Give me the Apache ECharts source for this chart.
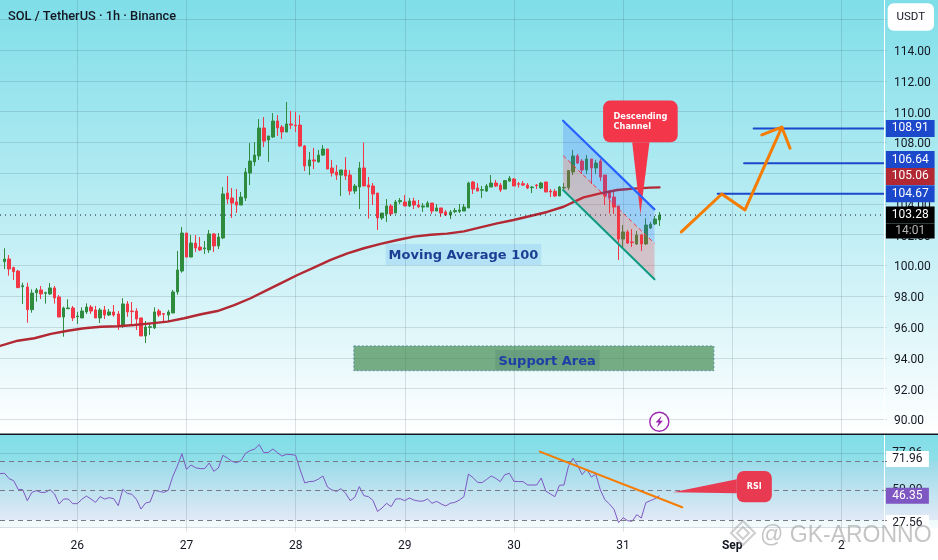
<!DOCTYPE html>
<html><head><meta charset="utf-8">
<style>html,body{margin:0;padding:0;background:#fff}#c{width:938px;height:560px}</style>
<script src="https://cdn.jsdelivr.net/npm/echarts@6/dist/echarts.min.js"></script>
</head><body><div id="c"></div>
<script>
// ---------- data ----------
const opens=[100.25,100.42,99.86,99.64,98.62,98.60,97.13,98.23,98.41,98.19,98.15,98.54,97.95,96.65,97.19,97.24,96.67,96.59,96.98,97.30,97.11,96.59,97.11,96.78,96.98,96.85,96.11,97.50,97.04,97.04,96.59,95.42,95.98,95.94,97.04,96.87,96.78,96.91,98.28,99.64,102.11,100.55,101.46,101.20,101.09,101.01,102.05,101.27,101.79,104.71,104.39,104.13,103.93,104.39,106.01,106.73,107.12,108.94,108.16,108.35,109.39,109.00,108.68,109.20,109.13,109.13,107.77,106.47,106.86,106.73,107.18,107.57,106.34,106.08,105.88,106.21,105.88,104.84,105.10,106.34,105.23,105.17,104.71,103.09,103.35,103.87,103.41,104.15,104.13,103.87,104.19,103.93,103.80,103.80,104.06,103.54,103.74,103.48,103.28,103.50,103.52,103.54,103.74,105.43,105.04,104.89,104.84,105.10,105.36,105.23,104.97,105.49,105.62,105.32,105.32,105.23,105.06,105.23,105.04,105.43,104.84,104.82,104.52,105.04,105.06,106.08,107.12,106.79,106.21,106.92,106.34,106.79,105.88,104.78,104.45,103.87,101.72,102.18,101.53,101.40,101.98,101.40,102.44,102.70,102.96];
const closes=[100.42,99.77,99.60,98.56,98.69,97.13,98.21,98.41,98.15,98.23,98.54,97.89,96.65,97.24,97.24,96.59,96.72,97.04,97.30,97.04,96.59,97.11,96.78,96.98,96.78,96.11,97.50,96.98,97.00,96.52,95.42,96.00,96.02,96.98,96.78,96.83,96.98,98.28,99.71,102.11,100.55,101.46,101.14,101.01,101.14,102.05,101.27,101.85,104.65,104.32,104.06,103.93,104.45,106.08,106.79,107.18,108.94,108.09,108.42,109.39,108.94,108.68,109.20,109.13,109.09,107.77,106.47,106.86,106.79,107.18,107.57,106.27,106.01,105.88,106.21,105.82,104.84,105.17,106.34,105.17,105.10,104.65,103.09,103.41,103.87,103.35,104.13,104.22,103.87,104.19,103.93,103.82,103.87,104.06,103.54,103.74,103.41,103.28,103.48,103.57,103.61,103.80,105.36,104.97,104.84,104.93,105.17,105.36,105.17,104.91,105.52,105.67,105.17,105.28,105.23,105.04,105.10,105.19,105.36,104.78,104.78,104.52,105.10,105.08,106.17,107.12,106.66,106.21,106.92,106.34,106.66,105.75,104.52,104.39,103.80,101.72,102.18,101.46,101.49,101.98,101.40,102.63,102.68,103.02,103.28];
const lows=[99.77,99.34,99.06,98.56,97.50,96.28,96.93,97.65,97.82,97.52,98.08,97.52,96.65,95.37,97.19,96.39,96.20,96.59,96.85,96.85,96.59,96.26,96.52,96.72,96.67,95.81,95.94,96.67,96.20,95.81,95.42,94.96,95.48,95.87,96.65,96.33,96.39,96.91,98.10,99.53,100.55,100.55,100.88,100.94,100.75,100.81,100.88,101.07,101.72,104.00,103.09,103.41,103.93,104.19,105.23,106.47,106.86,107.70,106.73,108.29,108.42,108.22,108.68,108.87,108.68,107.70,106.14,105.88,106.27,106.69,107.12,106.27,105.78,105.56,104.52,105.56,104.58,104.65,103.67,105.17,103.05,103.93,102.31,102.96,102.83,103.22,103.41,104.00,103.87,103.80,103.67,103.74,103.48,103.80,103.35,103.54,103.15,103.22,103.02,103.41,103.41,103.54,103.74,104.65,104.84,104.39,104.78,105.10,105.10,104.78,104.97,105.43,105.17,105.06,105.17,104.97,104.71,104.97,104.97,104.78,104.45,104.45,104.52,104.97,104.91,105.88,106.60,105.95,105.95,105.30,105.95,105.49,103.93,103.39,103.35,100.36,101.14,101.40,101.20,101.33,100.94,101.33,102.37,102.63,102.57];
const highs=[101.12,100.68,99.92,99.71,98.88,98.88,98.45,98.54,98.67,98.30,98.86,98.67,98.08,97.32,97.80,97.37,96.98,97.28,97.54,97.43,97.37,97.24,97.37,97.17,97.43,97.04,97.87,97.69,97.63,97.22,96.59,96.39,96.26,97.28,97.17,96.91,97.11,98.41,100.94,102.50,102.11,101.98,101.98,101.85,101.59,102.31,102.11,102.11,105.10,105.82,105.04,104.97,104.78,106.34,107.96,108.03,109.52,109.65,108.42,109.91,109.78,109.13,110.63,110.05,109.98,109.78,107.83,107.38,107.64,107.51,107.83,107.57,106.86,106.53,106.21,107.05,106.21,105.30,106.73,107.99,105.75,105.36,104.71,103.41,104.32,104.00,104.26,104.39,104.58,104.39,104.41,104.26,104.06,104.19,104.06,104.00,103.74,103.61,103.61,103.74,104.00,104.00,105.45,105.49,105.36,105.17,105.30,105.88,105.56,105.36,105.56,105.82,105.69,105.43,105.49,105.36,105.17,105.30,105.43,105.43,104.97,104.97,105.17,105.36,106.17,107.51,107.25,106.92,107.18,106.92,106.86,106.92,105.88,104.91,104.78,103.87,102.63,102.31,102.37,102.24,102.05,103.07,102.83,103.22,103.48];
const rsiValues=[61.3,61.5,57.9,56.5,50.65,50.4,43.0,48.6,49.75,48.6,48.6,50.4,47.5,40.7,44.1,44.1,40.95,40.95,43.9,46.1,44.1,41.8,45.7,44.1,45.0,44.3,39.6,50.65,47.9,47.3,43.9,37.3,41.4,42.1,50.0,49.3,48.6,50.0,59.5,66.5,74.8,64.2,67.15,65.3,64.7,64.7,68.5,62.9,65.1,73.7,71.9,69.6,68.7,70.1,75.1,76.9,78.0,81.0,75.5,75.7,78.0,75.5,73.2,74.4,74.2,73.7,63.8,55.0,55.9,56.1,57.6,59.7,52.2,50.2,49.3,51.1,47.9,43.0,45.2,52.5,46.4,45.7,43.2,35.7,38.0,41.2,38.9,44.1,44.3,43.0,44.8,43.4,42.7,42.7,44.1,41.2,42.5,40.7,39.4,41.2,41.8,43.4,45.7,61.0,58.6,55.4,55.2,57.4,59.7,58.1,55.9,60.6,61.5,56.1,55.9,55.9,53.6,53.6,53.6,58.3,49.5,47.5,45.7,53.4,53.6,66.5,71.7,66.7,60.6,64.4,59.0,60.8,50.2,43.6,40.7,37.1,28.1,31.4,29.4,29.0,33.5,31.2,41.6,43.0,44.3,46.35];
const maHours=[0,3.9,7.56,11.2,14.9,18.5,22.2,25.9,29.5,33.2,36.8,40.5,44.2,47.8,51.5,55.1,58.8,61.7,65.4,69,72.7,76.4,80,83.7,87.4,91,94.7,98.3,102,105.6,109.3,112.9,116.6,120.3,123.9,128.3,132,135.7,139.3,143,145];
const maValues=[94.77,95.11,95.27,95.55,95.76,95.92,96.02,96.05,96.13,96.24,96.35,96.57,96.83,97.04,97.43,97.87,98.41,98.84,99.38,99.86,100.36,100.79,101.12,101.40,101.66,101.88,102.00,102.07,102.22,102.48,102.74,102.96,103.22,103.48,103.82,104.43,104.69,104.91,105.00,105.06,105.08];
const tickDays=['26','27','28','29','30','31','Sep','2'];
const levelPrices=[108.91,106.64,104.67];
const levelStarts=[165.7,163.6,157.8];
const levelEnd=194.4;
const lastPrice=103.28;
const channelHours=[123.8,143.9];
const channelTop=[109.41,103.65];
const channelMid=[107.14,101.44];
const channelBottom=[104.91,99.10];
const orangeHours=[149.8,158.7,163.8,171.9];
const orangePrices=[102.18,104.65,103.61,108.99];
const headHours=[167.5,171.9,173.7];
const headPrices=[108.49,108.99,107.62];
const rsiTrendHours=[118.7,150.0];
const rsiTrendValues=[76.2,38.5];
const supportHours=[77.8,156.96];
const supportPrices=[94.77,93.16];
const supportLabelHours=[108.9,131.8];
const supportLabelPrices=[94.51,93.21];
const maLabelHours=[84.8,119.0];
const maLabelPrices=[101.40,100.03];
const calloutHours=[132.6,149.0];
const calloutPrices=[110.72,108.01];
const calloutTail=[[139.0,108.01],[140.8,103.33],[142.8,108.01]];
const rsiBoxHours=[162.0,169.7];
const rsiBoxValues=[63.1,41.9];
const rsiTail=[[162.0,57.5],[147.96,48.6],[162.0,48.0]];
// where each tag sits on the scale (tags are pushed apart so they do not overlap)
const priceTags=[108.91,106.89,105.79,104.67,102.24,103.28];
const priceTagTexts=['108.91','106.64','105.06','104.67','14:01','103.28'];
const priceTagStyles=['blue','blue','crim','blue','cnt','blk'];
const rsiTags=[75.3,50.4,71.2,27.8,46.35];
const rsiTagTexts=['77.96','50.00','71.96','27.56','46.35'];
const rsiTagStyles=['plain','plain','wht','wht','pur'];

// ---------- assembling ----------
const categories=[];
{ // hour slots from Aug 25 07:00; day starts carry their axis label
  let day=25,hour=7,dayIdx=-1;
  for(let k=0;k<=195;k++){
    if(hour===0){dayIdx++;categories.push(tickDays[dayIdx]);}
    else categories.push('h'+day+'-'+hour);
    hour++; if(hour===24){hour=0;day++;}
  }
}
const isDay=(i,v)=>tickDays.includes(v);
const zip=(a,b)=>a.map((v,i)=>[v,b[i]]);
const candleData=[['-','-','-','-']].concat(opens.map((o,i)=>[o,closes[i],lows[i],highs[i]]));
const ink='#131722';
const font='Roboto, "Liberation Sans", sans-serif';
const gridLine='rgba(40,60,80,0.15)';
const G={left:-1.1,width:888};
const richPrice={
 blue:{backgroundColor:'#1c48cc',color:'#fff'},crim:{backgroundColor:'#b22833',color:'#fff'},
 blk:{backgroundColor:'#000',color:'#fff'},cnt:{backgroundColor:'#000',color:'#b5b5b5'}
};
for(const k in richPrice)Object.assign(richPrice[k],{width:48.7,height:k==='cnt'?15:17,lineHeight:k==='cnt'?15:17,align:'center',fontFamily:font,fontSize:12});
const richRsi={
 wht:{backgroundColor:'#fff',color:ink},pur:{backgroundColor:'#7e57c2',color:'#fff'},plain:{color:ink}
};
for(const k in richRsi)Object.assign(richRsi[k],{width:43,height:16,lineHeight:16,align:'center',fontFamily:font,fontSize:12});

const shapesMain=(params,api)=>{
  const c=p=>api.coord(p);
  const poly=(pts,fill)=>({type:'polygon',shape:{points:pts.map(c)},style:{fill}});
  const rect=(hs,vs,style,r)=>{const a=c([hs[0],vs[0]]),b=c([hs[1],vs[1]]);return{type:'rect',shape:{x:a[0],y:a[1],width:b[0]-a[0],height:b[1]-a[1],r:r||0},style};};
  const txt=(p,text,fnt,fill,align)=>{const q=c(p);return{type:'text',style:{text,x:q[0],y:q[1],font:fnt,fill,align:align||'center',verticalAlign:'middle',textAlign:align||'center',textVerticalAlign:'middle'}};};
  const h=channelHours;
  return {type:'group',children:[
    poly([[h[0],channelTop[0]],[h[1],channelTop[1]],[h[1],channelMid[1]],[h[0],channelMid[0]]],'rgba(41,98,255,0.22)'),
    poly([[h[0],channelMid[0]],[h[1],channelMid[1]],[h[1],channelBottom[1]],[h[0],channelBottom[0]]],'rgba(242,54,69,0.25)'),
    rect(supportHours,supportPrices,{fill:'rgba(56,130,66,0.65)',stroke:'#5a8fa6',lineWidth:1,lineDash:[2,2]}),
    rect(supportLabelHours,supportLabelPrices,{fill:'rgba(70,120,110,0.25)'}),
    txt([120.3,93.78],'Support Area','bold 13px "DejaVu Sans"','#1b3fa6'),
    rect(maLabelHours,maLabelPrices,{fill:'rgba(33,120,243,0.13)'}),
    txt([(maLabelHours[0]+maLabelHours[1])/2,100.62],'Moving Average 100','600 13px "DejaVu Sans"','#1c3f94'),
    poly(calloutTail,'#f4364a'),
    rect(calloutHours,calloutPrices,{fill:'#f4364a'},7),
    txt([134.9,109.68],'Descending','bold 8.2px "DejaVu Sans"','#fff','left'),
    txt([134.9,109.03],'Channel','bold 8.2px "DejaVu Sans"','#fff','left')
  ]};
};
const shapesRsi=(params,api)=>{
  const c=p=>api.coord(p);
  const a=c([rsiBoxHours[0],rsiBoxValues[0]]),b=c([rsiBoxHours[1],rsiBoxValues[1]]);
  const m=c([(rsiBoxHours[0]+rsiBoxHours[1])/2,(rsiBoxValues[0]+rsiBoxValues[1])/2]);
  return {type:'group',children:[
    {type:'polygon',shape:{points:rsiTail.map(c)},style:{fill:'#e83b52'}},
    {type:'rect',shape:{x:a[0],y:a[1],width:b[0]-a[0],height:b[1]-a[1],r:7},style:{fill:'#e83b52'}},
    {type:'text',style:{text:'RSI',x:m[0],y:m[1],font:'bold 8px "DejaVu Sans"',fill:'#fff',align:'center',verticalAlign:'middle',textAlign:'center',textVerticalAlign:'middle'}}
  ]};
};
const lineS=(name,x,y,data,color,width,extra)=>Object.assign({type:'line',name,xAxisIndex:x,yAxisIndex:y,data,symbol:'none',silent:true,lineStyle:{color,width,cap:'round',join:'round'},z:6},extra||{});

const option={
 animation:false,
 title:{text:'SOL / TetherUS · 1h · Binance',left:8,top:10,padding:0,textStyle:{fontFamily:font,fontWeight:500,fontSize:12.8,color:ink}},
 graphic:{elements:[
  {type:'rect',z:-5,silent:true,shape:{x:0,y:0,width:938,height:434},style:{fill:{type:'linear',x:0,y:0,x2:0,y2:1,colorStops:[{offset:0,color:'#7fdee8'},{offset:0.5,color:'#bcedf4'},{offset:1,color:'#ffffff'}]}}},
  {type:'rect',z:-5,silent:true,shape:{x:0,y:434,width:938,height:94},style:{fill:{type:'linear',x:0,y:0,x2:0,y2:1,colorStops:[{offset:0,color:'#7fdee8'},{offset:0.287,color:'#8fdfe8'},{offset:0.287,color:'#9adbe9'},{offset:0.915,color:'#e2e9f6'},{offset:0.915,color:'#eefafb'},{offset:1,color:'#f6fcfd'}]}}},
  {type:'rect',z:9,silent:true,shape:{x:884,y:0,width:1,height:528},style:{fill:'#ffffff'}},
  {type:'rect',z:9,silent:true,shape:{x:0,y:433.5,width:938,height:1.5},style:{fill:'#131722'}},
  {type:'rect',z:10,silent:true,shape:{x:887.7,y:3.3,width:46.3,height:27.4,r:6},style:{fill:'#ffffff'}},
  {type:'text',z:11,silent:true,style:{text:'USDT',x:910.8,y:17.5,font:'11.5px '+font,fill:ink,align:'center',verticalAlign:'middle'}},
  {type:'circle',z:8,silent:true,shape:{cx:659.3,cy:421.7,r:9.5},style:{fill:'#ffffff',stroke:'#9c27b0',lineWidth:1.4}},
  {type:'polygon',z:8,silent:true,shape:{points:[[661.5,416],[655.5,422.5],[658.8,422.5],[656.8,427.5],[663,420.8],[659.8,420.8]]},style:{fill:'#9c27b0'}},
  {type:'text',z:12,silent:true,style:{text:'@ GK-ARONNO',x:760,y:536,font:'23px "Liberation Sans"',fill:'rgba(150,150,150,0.55)',align:'left',verticalAlign:'middle'}},
  {type:'polygon',z:12,silent:true,shape:{points:[[743,521],[755,533],[743,545],[731,533]]},style:{fill:'none',stroke:'rgba(160,160,160,0.5)',lineWidth:2}},
  {type:'polygon',z:12,silent:true,shape:{points:[[743,527],[749,533],[743,539],[737,533]]},style:{fill:'none',stroke:'rgba(160,160,160,0.5)',lineWidth:2}}
 ]},
 grid:[
  {left:G.left,width:G.width,top:19.4,height:399.9},
  {left:G.left,width:G.width,top:0,height:434},
  {left:G.left,width:G.width,top:434.25,height:97.35}
 ],
 xAxis:[
  {type:'category',gridIndex:0,data:categories,boundaryGap:false,show:false},
  {type:'value',gridIndex:0,min:0,max:195,show:false},
  {type:'category',gridIndex:1,data:categories,boundaryGap:false,axisLine:{show:false},axisTick:{show:false},axisLabel:{show:false},splitLine:{show:true,interval:isDay,lineStyle:{color:gridLine,width:1}}},
  {type:'category',gridIndex:2,data:categories,boundaryGap:false,axisLine:{show:false},axisTick:{show:false},
   axisLabel:{interval:isDay,margin:8,fontFamily:font,fontSize:12,color:ink,formatter:v=>v==='Sep'?'{b|Sep}':v,rich:{b:{fontFamily:font,fontSize:12,fontWeight:'bold',color:ink}}},
   splitLine:{show:true,interval:isDay,lineStyle:{color:gridLine,width:1}}},
  {type:'value',gridIndex:2,min:0,max:195,show:false}
 ],
 yAxis:[
  {type:'value',gridIndex:0,position:'right',min:90,max:116,interval:2,axisLine:{show:false},axisTick:{show:false},
   axisLabel:{margin:7,formatter:v=>'{t|'+v.toFixed(2)+'}',rich:{t:{fontFamily:font,fontSize:12,color:ink,padding:[4,0,0,0]}}},splitLine:{show:true,lineStyle:{color:gridLine,width:1}}},
  {type:'value',gridIndex:0,position:'right',min:90,max:116,axisLine:{show:false},axisTick:{show:false},splitLine:{show:false},
   axisLabel:{customValues:priceTags,margin:-1,hideOverlap:false,showMinLabel:true,showMaxLabel:true,rich:richPrice,
    formatter:v=>{const i=priceTags.indexOf(v);return '{'+priceTagStyles[i]+'|'+priceTagTexts[i]+'}';}}},
  {type:'value',gridIndex:1,min:0,max:1,show:false},
  {type:'value',gridIndex:2,position:'right',min:22,max:88,show:false},
  {type:'value',gridIndex:2,position:'right',min:22,max:88,axisLine:{show:false},axisTick:{show:false},splitLine:{show:false},
   axisLabel:{customValues:rsiTags,margin:-1,rich:richRsi,
    formatter:v=>{const i=rsiTags.indexOf(v);return '{'+rsiTagStyles[i]+'|'+rsiTagTexts[i]+'}';}}}
 ],
 series:[
  {type:'candlestick',xAxisIndex:0,yAxisIndex:0,data:candleData,barWidth:3,silent:true,z:2,
   itemStyle:{color:'#2f8c3f',color0:'#f23645',borderColor:'#2f8c3f',borderColor0:'#f23645',borderWidth:1}},
  lineS('MA 100',1,0,zip(maHours,maValues),'#b22833',2.4,{z:3}),
  {type:'custom',xAxisIndex:1,yAxisIndex:0,data:[[100,100]],renderItem:shapesMain,silent:true,z:4},
  lineS('last',1,0,[[0,lastPrice],[levelEnd,lastPrice]],'#131722',1,{z:3,lineStyle:{color:'#131722',width:1,type:[1,4]}}),
  lineS('channel top',1,0,zip(channelHours,channelTop),'#2962ff',2.2),
  lineS('channel mid',1,0,zip(channelHours,channelMid),'#f23645',1,{lineStyle:{color:'#f23645',width:1,type:[4,3]}}),
  lineS('channel bottom',1,0,zip(channelHours,channelBottom),'#0f9a82',2),
  lineS('level 1',1,0,[[levelStarts[0],levelPrices[0]],[levelEnd,levelPrices[0]]],'#1c48cc',2),
  lineS('level 2',1,0,[[levelStarts[1],levelPrices[1]],[levelEnd,levelPrices[1]]],'#1c48cc',2),
  lineS('level 3',1,0,[[levelStarts[2],levelPrices[2]],[levelEnd,levelPrices[2]]],'#1c48cc',2),
  lineS('path',1,0,zip(orangeHours,orangePrices),'#f57c00',3,{z:7}),
  lineS('head',1,0,zip(headHours,headPrices),'#f57c00',3,{z:7}),
  {type:'line',xAxisIndex:3,yAxisIndex:3,data:rsiValues,symbol:'none',silent:true,z:4,lineStyle:{color:'#7e57c2',width:1},
   markLine:{silent:true,symbol:'none',label:{show:false},data:[
    {yAxis:70,lineStyle:{color:'#787b86',type:[5,4],width:1}},
    {yAxis:50,lineStyle:{color:'#787b86',type:[5,4],width:1}},
    {yAxis:30,lineStyle:{color:'#787b86',type:[5,4],width:1}},
    {yAxis:75,lineStyle:{color:gridLine,type:'solid',width:1}},
    {yAxis:25,lineStyle:{color:gridLine,type:'solid',width:1}}
   ]}},
  lineS('rsi trend',4,3,zip(rsiTrendHours,rsiTrendValues),'#f57c00',2),
  {type:'custom',xAxisIndex:4,yAxisIndex:3,data:[[100,50]],renderItem:shapesRsi,silent:true,z:5}
 ]
};
echarts.init(document.getElementById('c')).setOption(option);
</script></body></html>
